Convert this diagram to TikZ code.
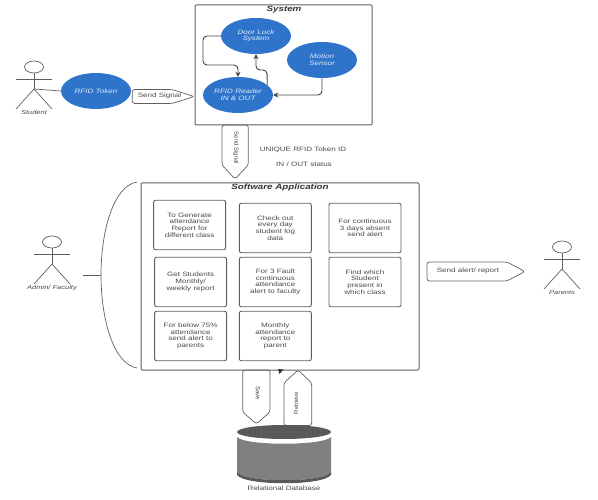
\documentclass[tikz,border=0pt]{standalone}
\usepackage{fontspec}
\setmainfont[FakeStretch=1.28]{Liberation Sans}
\newfontfamily\rfidside{Liberation Sans}
\definecolor{rfidblue}{HTML}{2E74CB}
\definecolor{rfidline}{HTML}{5F5F5F}
\definecolor{rfidtext}{HTML}{4A4A4A}
\definecolor{dbdark}{HTML}{595959}
\definecolor{dbbody}{HTML}{808080}
\usetikzlibrary{arrows.meta,shapes.geometric}
\tikzset{
  rfiduse/.style={draw=none,ellipse,fill=rfidblue,minimum width=70pt,minimum height=36pt,inner sep=0pt,align=center,text=white!85!rfidblue,font=\fontsize{6.3}{6.7}\selectfont\itshape},
  rfidframe/.style={draw=rfidline,line width=1pt,rounded corners=1pt,inner sep=0pt},
  rfidtitle/.style={font=\fontsize{7.65}{9}\selectfont\bfseries\itshape,text=black!80,inner sep=0pt},
  rfidtask/.style={draw=rfidline,line width=0.9pt,rounded corners=2pt,minimum width=72pt,minimum height=49.5pt,inner sep=0pt,align=center,text=rfidtext,font=\fontsize{6.3}{6.7}\selectfont},
  rfidsignal/.style={draw=rfidline,line width=0.7pt,rounded corners=2.5pt},
  rfidnote/.style={text=rfidtext,inner sep=0pt,font=\fontsize{6.3}{7}\selectfont},
  rfidside/.style={text=rfidtext,inner sep=0pt,font=\fontsize{6}{7}\selectfont\rfidside},
  rfidflow/.style={-{Stealth[length=5pt,width=5pt]},line width=0.9pt,draw=black!75,rounded corners=4pt},
  rfidlink/.style={draw=rfidline,line width=0.7pt},
  rfidactor/.pic={
    \node[draw=rfidline,line width=0.7pt,ellipse,minimum width=19pt,minimum height=12pt,inner sep=0pt] (-head) at (0,0) {};
    \coordinate (-hip) at (0,22);
    \draw[rfidlink] (-head.south) -- (-hip);
    \draw[rfidlink] (-18,12) -- (18,12);
    \draw[rfidlink] (-18,42) -- (-hip) -- (18,42);
    \node[rfidnote,font=\fontsize{5.85}{7}\selectfont\itshape] (-label) at (0,45.5) {#1};
  },
}
\begin{document}
\begin{tikzpicture}[x=1pt,y=-1pt]
\useasboundingbox (0,0) rectangle (598,500);
% top part
\node[rfidframe,minimum width=177pt,minimum height=120pt] (sys) at (283.5,65) {};
\node[rfidtitle] (systitle) at (284,10) {System};
\node[rfiduse] (door) at (256,36) {Door Lock\\System};
\node[rfiduse] (motion) at (322,60) {Motion\\Sensor};
\node[rfiduse] (reader) at (238,95) {RFID Reader\\IN \& OUT};
\node[rfiduse] (token) at (96,91) {RFID Token};
\draw[rfidflow] (door.west) -- (203,36) -- (203,65) -- (238,65) -- (reader.north);
\draw[rfidflow] (reader.19) -- (267,70) -- (256,70) -- (door.south);
\draw[rfidflow] (motion.south) |- (reader.east);
\pic (student) at (34,67) {rfidactor=Student};
\draw[rfidlink] (student-hip) -- (token.west);
\draw[rfidsignal] (132.3,89.5) -- (172,89.5) -- (194.3,96.5) -- (172,103.5) -- (132.3,103.5) -- cycle;
\node[rfidnote] (sendone) at (159.5,96) {Send Signal};
\draw[rfidsignal] (222,125) -- (248.3,125) -- (248.3,165) -- (235,179) -- (222,165) -- cycle;
\node[rfidside,rotate=-90] (sendtwo) at (236,148) {Send Signal};
\node[rfidnote] (rfidid) at (303,150) {UNIQUE RFID Token ID};
\node[rfidnote] (status) at (304,164) {IN / OUT status};
% software application
\node[rfidframe,minimum width=278pt,minimum height=187pt] (app) at (280,276.5) {};
\node[rfidtitle] (apptitle) at (280,188) {Software Application};
\node[rfidtask] (genrep) at (189.6,225) {To Generate\\attendance\\Report for\\different class};
\node[rfidtask] (checkout) at (275.3,228) {Check out\\every day\\student log\\data};
\node[rfidtask] (absent) at (365,228) {For continuous\\3 days absent\\send alert};
\node[rfidtask] (monthly) at (190.6,282) {Get Students\\Monthly/\\weekly report};
\node[rfidtask] (fault) at (275.3,282) {For 3 Fault\\continuous\\attendance\\alert to faculty};
\node[rfidtask] (find) at (365,282) {Find which\\Student\\present in\\which class};
\node[rfidtask] (below) at (190.6,336) {For below 75\%\\attendance\\send alert to\\parents};
\node[rfidtask] (parrep) at (275.3,336) {Monthly\\attendance\\report to\\parent};
% left brace and actors
\pic (admin) at (52,242) {rfidactor={Admin/ Faculty}};
\coordinate (bracetop) at (137,182);
\coordinate (bracemid) at (101,275);
\coordinate (bracebot) at (137,368);
\coordinate (adminend) at (83,275);
\draw[rfidlink] (bracetop) .. controls (113,186) and (101,232) .. (bracemid) .. controls (101,318) and (113,364) .. (bracebot);
\draw[rfidlink] (adminend) -- (bracemid);
\pic (parents) at (562,247) {rfidactor=Parents};
\draw[rfidsignal] (427,262) -- (507,262) -- (525,271.5) -- (507,281) -- (427,281) -- cycle;
\node[rfidnote] (alert) at (468,271) {Send alert/ report};
% database
\draw[rfidsignal] (242.7,370) -- (270,370) -- (270,412) -- (256.3,424) -- (242.7,412) -- cycle;
\node[rfidside,rotate=-90] (save) at (258,393) {Save};
\draw[rfidsignal] (284,425.5) -- (311.7,425.5) -- (311.7,383) -- (298,370) -- (284,383) -- cycle;
\node[rfidside,rotate=90] (retrieve) at (296,403) {Retrieve};
\fill[black!80] (278,369) -- (283.5,369.5) -- (279.5,374) -- cycle;
\fill[dbbody] (237,437) .. controls (245,446) and (323,446) .. (331,437) -- (331,472) .. controls (323,483) and (245,483) .. (237,472) -- cycle;
\fill[dbdark] (237,472) .. controls (245,483) and (323,483) .. (331,472) -- (331,475) .. controls (323,486) and (245,486) .. (237,475) -- cycle;
\node[draw=none,fill=dbdark,ellipse,minimum width=94pt,minimum height=14pt,inner sep=0pt] (dbtop) at (284,432) {};
\node[rfidnote] (dblabel) at (284,488) {Relational Database};
\end{tikzpicture}
\end{document}
